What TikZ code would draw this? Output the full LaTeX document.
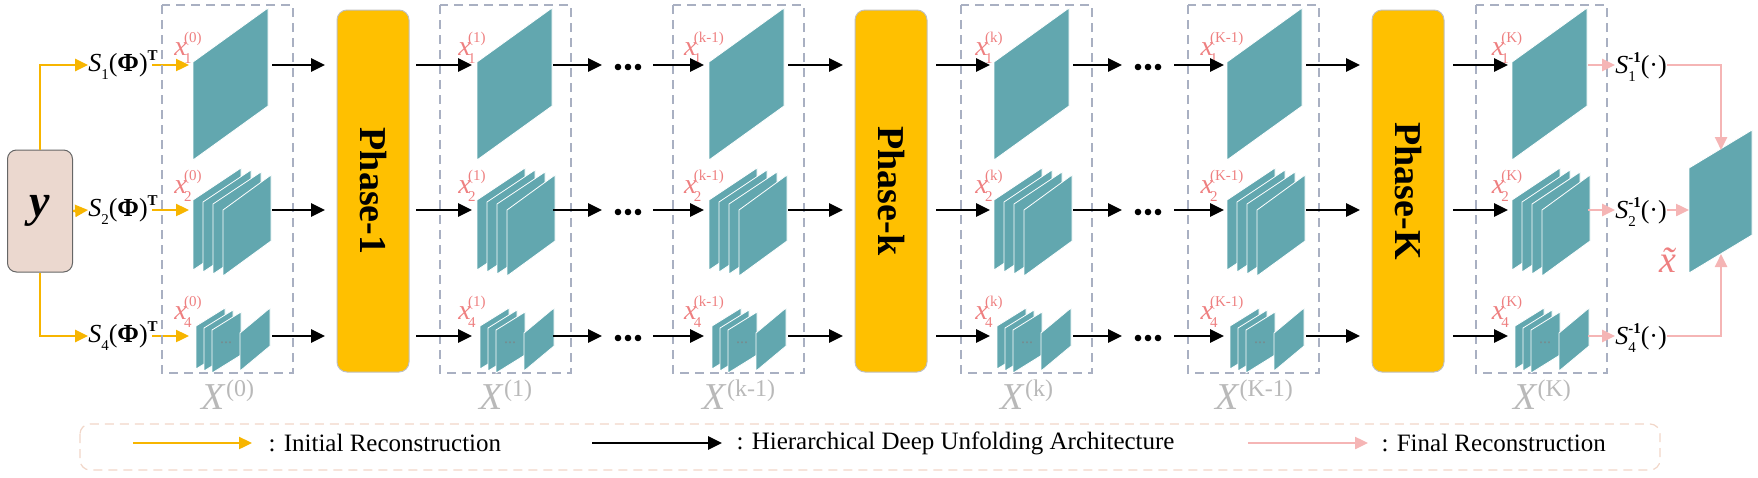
\documentclass[tikz,border=0pt]{standalone}
\usepackage{fontspec}
\setmainfont{Liberation Serif}
\usetikzlibrary{arrows.meta}
\definecolor{teal1}{HTML}{62A7AF}
\definecolor{yel}{HTML}{F7B500}
\definecolor{phasec}{HTML}{FFC000}
\definecolor{pinkl}{HTML}{EE7F80}
\definecolor{pinka}{HTML}{F5B5B5}
\definecolor{dashc}{HTML}{A9B0C2}
\definecolor{legc}{HTML}{F1D6C8}
\definecolor{yboxc}{HTML}{EBD8CF}
\newcommand\plane[5]{\filldraw[fill=teal1,draw=white,line width=0.8pt] (#1,#2) -- ++(#3,-#5) -- ++(0,#4) -- ++(-#3,#5) -- cycle;}
\newcommand\fs[1]{\fontsize{#1}{#1}\selectfont}
\newcommand\sub[1]{\raisebox{-0.3em}{\fs{15}#1}}
\newcommand\sps[1]{\raisebox{0.45em}{\fs{15}#1}}
\newcommand\xl[2]{\textit{x}\hspace{-0.1em}\rlap{\sub{#1}}\sps{(#2)}}
\newcommand\grp[3]{%
  \draw[dashbox] (#1,5) rectangle ++(131,368);
  \node[glab] at (#1+66,395) {\textit{X}\raisebox{0.35em}{\fs{24}(#3)}};
  \plane{#2}{62}{75}{98}{54}
  \plane{#2}{200}{48}{70}{32}
  \plane{#2+10}{202}{48}{70}{32}
  \plane{#2+20}{204}{48}{70}{32}
  \plane{#2+30}{210}{48}{66}{35}
  \plane{#2+3}{326}{29}{43}{18}
  \plane{#2+11}{328}{29}{43}{18}
  \plane{#2+19}{330}{29}{43}{18}
  \plane{#2+47}{333}{30}{38}{25}
  \node[text=gray!70!teal1,font=\fs{16}] at (#2+33,343) {...};
  \node[xlab] at (#2-5,48) {\xl{1}{#3}};
  \node[xlab] at (#2-5,186) {\xl{2}{#3}};
  \node[xlab] at (#2-5,312) {\xl{4}{#3}};
}
\newcommand\bigdots[2]{\foreach \d in {-10,0,10} \fill (#1+\d,#2) circle (3.3pt);}
\begin{document}
\begin{tikzpicture}[x=1pt,y=-1pt,
  dashbox/.style={draw=dashc,dashed,dash pattern=on 9pt off 6pt,line width=1.6pt},
  glab/.style={text=gray!55,font=\fs{38}},
  xlab/.style={text=pinkl,font=\fs{28},inner sep=0pt},
  barr/.style={-{Triangle[length=14pt,width=13pt]},line width=2.6pt,black},
  yarr/.style={-{Triangle[length=13pt,width=12pt]},line width=2.4pt,yel},
  parr/.style={-{Triangle[length=13pt,width=12pt]},line width=2.4pt,pinka},
  phase/.style={draw=gray!50,line width=1pt,fill=phasec,rounded corners=10pt,minimum width=362pt,minimum height=72pt,rotate=-90,font=\bfseries\fs{38}},
  slab/.style={font=\fs{26},inner sep=0pt},
  leg/.style={font=\fs{25},anchor=west}]
\useasboundingbox (0,0) rectangle (1758,477);
% input
\node[draw=gray!80!black,line width=1pt,fill=yboxc,rounded corners=9pt,minimum width=65pt,minimum height=122pt] (y) at (40,211) {\fs{46}\bfseries\itshape y};
\node[slab] (s1) at (123,65) {\textit{S}\sub{1}(\textbf{Φ})\sps{\textbf{T}}};
\node[slab] (s2) at (123,210) {\textit{S}\sub{2}(\textbf{Φ})\sps{\textbf{T}}};
\node[slab] (s4) at (123,336) {\textit{S}\sub{4}(\textbf{Φ})\sps{\textbf{T}}};
\draw[yarr] (y.north) |- (s1.west);
\draw[yarr] (y.east) -- (s2.west);
\draw[yarr] (y.south) |- (s4.west);
\foreach \r in {65,210,336} \draw[yarr] (152,\r) -- (189,\r);
% groups
\grp{162}{193}{0}
\grp{440}{477}{1}
\grp{673}{709}{k-1}
\grp{961}{994}{k}
\grp{1188}{1227}{K-1}
\grp{1476}{1512}{K}
% phases
\node[phase] (p1) at (373,191) {Phase-1};
\node[phase] (pk) at (891,191) {Phase-k};
\node[phase] (pK) at (1408,191) {Phase-K};
% black arrows
\foreach \r in {65,210,336}{
  \foreach \a/\b in {272/325,416/472,553/602,653/704,788/843,936/990,1073/1122,1174/1224,1306/1360,1453/1508}
    \draw[barr] (\a,\r) -- (\b,\r);
  \bigdots{628}{\r+2}
  \bigdots{1148}{\r+2}
}
% final
\node[slab] (t1) at (1641,67) {\textit{S}\rlap{\sub{1}}\sps{\textbf{-1}}(·)};
\node[slab] (t2) at (1641,212) {\textit{S}\rlap{\sub{2}}\sps{\textbf{-1}}(·)};
\node[slab] (t4) at (1641,338) {\textit{S}\rlap{\sub{4}}\sps{\textbf{-1}}(·)};
\foreach \r/\t in {65/t1,210/t2,336/t4} \draw[parr] (1588,\r) -- (\t.west |- 0,\r);
\plane{1689}{168}{63}{105}{38}
\coordinate (o1) at (1721,150);
\coordinate (o2) at (1689,210);
\coordinate (o4) at (1721,254);
\draw[parr] (t1.east |- 0,65) -| (o1);
\draw[parr] (t2.east |- 0,210) -- (o2);
\draw[parr] (t4.east |- 0,336) -| (o4);
\node[text=pinkl,font=\fs{38}] (xt) at (1675,260) {\textit{\~x}};
% legend
\draw[draw=legc,dashed,dash pattern=on 9pt off 6pt,line width=1.2pt,rounded corners=10pt] (80,424) rectangle (1660,470);
\coordinate (la1) at (133,443); \coordinate (lb1) at (252,443);
\coordinate (la2) at (592,443); \coordinate (lb2) at (722,443);
\coordinate (la3) at (1248,443); \coordinate (lb3) at (1368,443);
\draw[yarr] (la1) -- (lb1);
\draw[barr] (la2) -- (lb2);
\draw[parr] (la3) -- (lb3);
\node[leg] at (265,443) {: Initial Reconstruction};
\node[leg] at (733,443) {: Hierarchical Deep Unfolding Architecture};
\node[leg] at (1378,443) {: Final Reconstruction};
\end{tikzpicture}
\end{document}
